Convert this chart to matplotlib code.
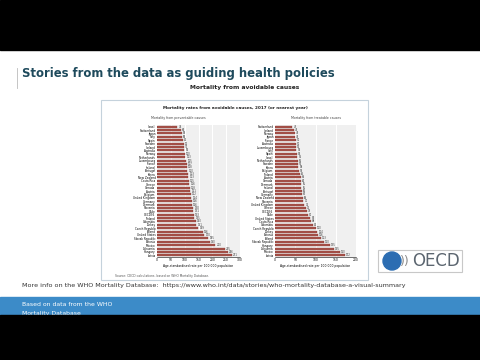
import matplotlib.pyplot as plt
from matplotlib.patches import Rectangle, Circle

# preventable causes (top to bottom)
prev_countries = ["Israel", "Switzerland", "Japan", "Italy", "Spain", "Sweden", "Iceland",
                  "Australia", "Norway", "Netherlands", "Luxembourg", "France", "Ireland",
                  "Portugal", "Korea", "New Zealand", "Costa Rica", "Greece", "Canada",
                  "Austria", "Belgium", "United Kingdom", "Germany", "Denmark", "Slovenia",
                  "Chile", "OECD36", "Finland", "Colombia", "Turkey", "Czech Republic",
                  "Poland", "United States", "Slovak Republic", "Estonia", "Mexico",
                  "Lithuania", "Hungary", "Latvia"]
prev_values = [74, 86, 89, 90, 94, 96, 97, 99, 100, 103, 105, 107, 108, 110, 113, 113, 115,
               116, 118, 121, 122, 124, 126, 126, 130, 131, 133, 135, 140, 141, 149, 166,
               170, 185, 190, 210, 245, 256, 271]

# treatable causes (top to bottom)
treat_countries = ["Switzerland", "Iceland", "Norway", "Japan", "France", "Australia",
                   "Luxembourg", "Italy", "Spain", "Israel", "Netherlands", "Sweden", "Korea",
                   "Belgium", "Finland", "Austria", "Canada", "Denmark", "Ireland", "Portugal",
                   "Germany", "New Zealand", "Slovenia", "United Kingdom", "Greece", "OECD36",
                   "Chile", "United States", "Costa Rica", "Colombia", "Czech Republic",
                   "Turkey", "Estonia", "Poland", "Slovak Republic", "Hungary", "Lithuania",
                   "Mexico", "Latvia"]
treat_values = [43, 46, 49, 49, 51, 51, 52, 53, 54, 55, 56, 57, 58, 59, 62, 63, 64, 65, 65,
                66, 67, 68, 70, 72, 76, 79, 81, 87, 88, 94, 100, 104, 106, 113, 120, 135,
                145, 160, 172]

W, H = 480, 360


def rect(x0, y0, x1, y1):
    return [x0 / W, 1 - y1 / H, (x1 - x0) / W, (y1 - y0) / H]


fig = plt.figure(figsize=(4.8, 3.6), dpi=100)
bg = fig.add_axes([0, 0, 1, 1])
bg.set_xlim(0, W)
bg.set_ylim(H, 0)
bg.axis("off")

bg.add_patch(Rectangle((0, 0), W, 50, color="black", zorder=5))
bg.add_patch(Rectangle((0, 297), W, 18, color="#3C8BC8", zorder=2))
bg.add_patch(Rectangle((0, 315), W, 45, color="black", zorder=5))
bg.plot([17, 17], [68, 88], color="#BBBBBB", lw=0.6)

bg.text(22, 73, "Stories from the data as guiding health policies", fontsize=8.4,
        fontweight="bold", color="#1E4A5C", va="center")
bg.text(245, 88, "Mortality from avoidable causes", fontsize=4.3, fontweight="bold",
        color="#222222", ha="center", va="center")

# embedded chart frame
bg.add_patch(Rectangle((101, 100), 267, 180, facecolor="white", edgecolor="#C5D2DC", lw=0.8))
bg.text(235, 108, "Mortality rates from avoidable causes, 2017 (or nearest year)", fontsize=3,
        fontweight="bold", color="#222222", ha="center", va="center")
bg.text(178, 118, "Mortality from preventable causes", fontsize=2.3, color="#444444",
        ha="center", va="center")
bg.text(316, 118, "Mortality from treatable causes", fontsize=2.3, color="#444444",
        ha="center", va="center")
bg.text(115, 276, "Source: OECD calculations, based on WHO Mortality Database.", fontsize=2.2,
        color="#555555", va="center")

bg.text(22, 286, "More info on the WHO Mortality Database:  "
        "https://www.who.int/data/stories/who-mortality-database-a-visual-summary",
        fontsize=4.6, color="#333333", va="center")
bg.text(22, 304, "Based on data from the WHO", fontsize=4.4, color="white", va="center", zorder=3)
bg.text(22, 313, "Mortality Database", fontsize=4.4, color="white", va="center", zorder=3)

# OECD logo
bg.add_patch(Rectangle((378, 250), 84, 22, facecolor="white", edgecolor="#C8C8C8", lw=0.8))
bg.add_patch(Circle((392, 261), 9, color="#2C6DB2"))
bg.text(405, 261, "))", fontsize=9, color="#8C8C8C", ha="center", va="center")
bg.text(436, 261.5, "OECD", fontsize=12, color="#5C6670", ha="center", va="center")


def panel(box, countries, values, xmax, ticks):
    ax = fig.add_axes(rect(*box))
    ax.set_facecolor("#F0F0F0")
    y = range(len(countries))
    ax.barh(y, values, height=0.6, color="#A8554C", edgecolor="#7E2A24", lw=0.2, zorder=3)
    for i, v in zip(y, values):
        ax.text(v + xmax * 0.015, i, str(v), fontsize=1.8, color="#333333", va="center")
    ax.set_yticks(list(y))
    ax.set_yticklabels(countries, fontsize=2)
    ax.set_ylim(len(countries) - 0.5, -0.5)
    ax.set_xlim(0, xmax)
    ax.set_xticks(ticks)
    ax.set_xticklabels([str(t) for t in ticks], fontsize=2.2)
    ax.xaxis.grid(True, color="white", lw=0.8)
    ax.tick_params(length=0, pad=1)
    for s in ax.spines.values():
        s.set_visible(False)
    ax.spines["bottom"].set_visible(True)
    ax.spines["bottom"].set_linewidth(0.4)
    ax.set_xlabel("Age-standardised rate per 100 000 population", fontsize=2.2, labelpad=1.5)
    return ax


panel((157, 125, 240, 257), prev_countries, prev_values, 300, [0, 50, 100, 150, 200, 250, 300])
panel((275, 125, 356, 257), treat_countries, treat_values, 200, [0, 50, 100, 150, 200])

fig.savefig("out.png", dpi=100)
